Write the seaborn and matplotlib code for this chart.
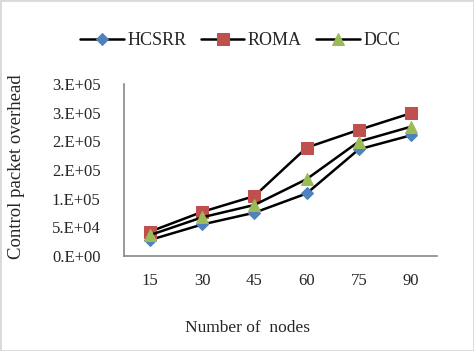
import pandas as pd
import seaborn as sns
import matplotlib.pyplot as plt

# values
nodes = ["15", "30", "45", "60", "75", "90"]
hcsrr = [28000, 55000, 75500, 109000, 186000, 210500]
roma = [42500, 77000, 104500, 189000, 220000, 249000]
dcc = [36500, 67500, 89000, 134000, 199500, 225500]

y_ticks = [0, 50000, 100000, 150000, 200000, 250000, 300000]
y_tick_labels = ["0.E+00", "5.E+04", "1.E+05", "2.E+05", "2.E+05", "3.E+05", "3.E+05"]

df = pd.DataFrame({"nodes": nodes, "HCSRR": hcsrr, "ROMA": roma, "DCC": dcc})

sns.set_style("white")
plt.rcParams["font.family"] = ["Liberation Serif", "DejaVu Serif"]

fig = plt.figure(figsize=(4.74, 3.51), dpi=100)
ax = fig.add_axes([0.2616, 0.2707, 0.6604, 0.49])

styles = {
    "HCSRR": ("D", "#4F81BD", 6.5),
    "ROMA": ("s", "#C0504D", 8.5),
    "DCC": ("^", "#9BBB59", 8.5),
}
for name, (mk, col, ms) in styles.items():
    sns.lineplot(data=df, x="nodes", y=name, ax=ax, color="black", lw=1.8,
                 marker=mk, markersize=ms, markerfacecolor=col,
                 markeredgecolor=col, label=name, sort=False)

ax.set_xlim(-0.5, 5.5)
ax.set_ylim(0, 300000)
ax.set_yticks(y_ticks)
ax.set_yticklabels(y_tick_labels)
ax.set_xticks(range(len(nodes)))
ax.set_xticklabels(nodes)
ax.set_xticks([i - 0.5 for i in range(len(nodes) + 1)], minor=True)
ax.tick_params(axis="x", which="major", length=0, pad=12, labelsize=12)
ax.tick_params(axis="x", which="minor", length=4, direction="out", color="#888888", width=1)
ax.tick_params(axis="y", length=4, direction="out", color="#888888", width=1, labelsize=12, pad=13)

for s in ["top", "right"]:
    ax.spines[s].set_visible(False)
for s in ["left", "bottom"]:
    ax.spines[s].set_color("#888888")
    ax.spines[s].set_linewidth(1.2)

ax.set_xlabel("Number of  nodes", fontsize=12.5)
ax.set_ylabel("Control packet overhead", fontsize=13.5)
ax.xaxis.set_label_coords(0.393, -0.371)
ax.yaxis.set_label_coords(-0.316, 0.52)

ax.legend(loc="center", bbox_to_anchor=(0.507, 0.885), bbox_transform=fig.transFigure,
          ncol=3, frameon=False, fontsize=13, handlelength=2.4, columnspacing=0.8,
          handletextpad=0.2)

fig.patches.append(plt.Rectangle((0, 0), 1, 1, transform=fig.transFigure,
                                 fill=False, edgecolor="#d9d9d9", lw=2))

fig.savefig("out.png", dpi=100)
